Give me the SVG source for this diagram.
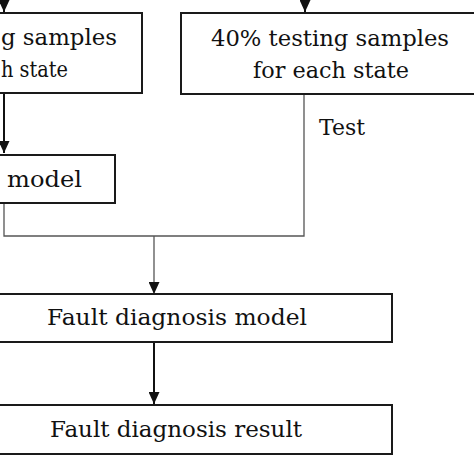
<svg xmlns="http://www.w3.org/2000/svg" width="474" height="474" viewBox="0 0 474 474">
<defs>
<marker id="ah" markerUnits="userSpaceOnUse" markerWidth="12" markerHeight="11" refX="12" refY="5.5" orient="auto" viewBox="0 0 12 11">
<path d="M0,0 L12,5.5 L0,11 Z" fill="#111"/>
</marker>
</defs>
<style>
.box{fill:#fff;stroke:#1a1a1a;stroke-width:2}
text{font-family:'DejaVu Serif',serif;font-size:23px;fill:#111}
.thick{stroke:#111;stroke-width:2;fill:none}
.thin{stroke:#555;stroke-width:1.3;fill:none}
</style>
<rect width="474" height="474" fill="#fff"/>
<g id="connectors">
<line class="thick" x1="4" y1="-10" x2="4" y2="12" marker-end="url(#ah)"/>
<line class="thick" x1="305" y1="-10" x2="305" y2="12" marker-end="url(#ah)"/>
<line class="thick" x1="4" y1="93" x2="4" y2="153" marker-end="url(#ah)"/>
<polyline class="thin" points="4,203 4,236 304,236 304,94"/>
<line class="thin" x1="154" y1="236" x2="154" y2="294" marker-end="url(#ah)"/>
<line class="thick" x1="154" y1="342" x2="154" y2="404" marker-end="url(#ah)"/>
<text x="319" y="135" textLength="46" lengthAdjust="spacingAndGlyphs">Test</text>
</g>
<g id="training-samples">
<rect class="box" x="-160" y="13" width="302" height="80"/>
<text x="1" y="45" textLength="116" lengthAdjust="spacingAndGlyphs">g samples</text>
<text x="1" y="77" textLength="67" lengthAdjust="spacingAndGlyphs">h state</text>
</g>
<g id="testing-samples">
<rect class="box" x="181" y="13" width="310" height="81"/>
<text x="211" y="46" textLength="238" lengthAdjust="spacingAndGlyphs">40% testing samples</text>
<text x="253" y="78" textLength="156" lengthAdjust="spacingAndGlyphs">for each state</text>
</g>
<g id="training-model">
<rect class="box" x="-100" y="155" width="215" height="48"/>
<text x="7" y="187" textLength="75" lengthAdjust="spacingAndGlyphs">model</text>
</g>
<g id="fault-diagnosis-model">
<rect class="box" x="-40" y="294" width="432" height="48"/>
<text x="47" y="325" textLength="260" lengthAdjust="spacingAndGlyphs">Fault diagnosis model</text>
</g>
<g id="fault-diagnosis-result">
<rect class="box" x="-40" y="405" width="432" height="49"/>
<text x="50" y="437" textLength="252" lengthAdjust="spacingAndGlyphs">Fault diagnosis result</text>
</g>
</svg>
